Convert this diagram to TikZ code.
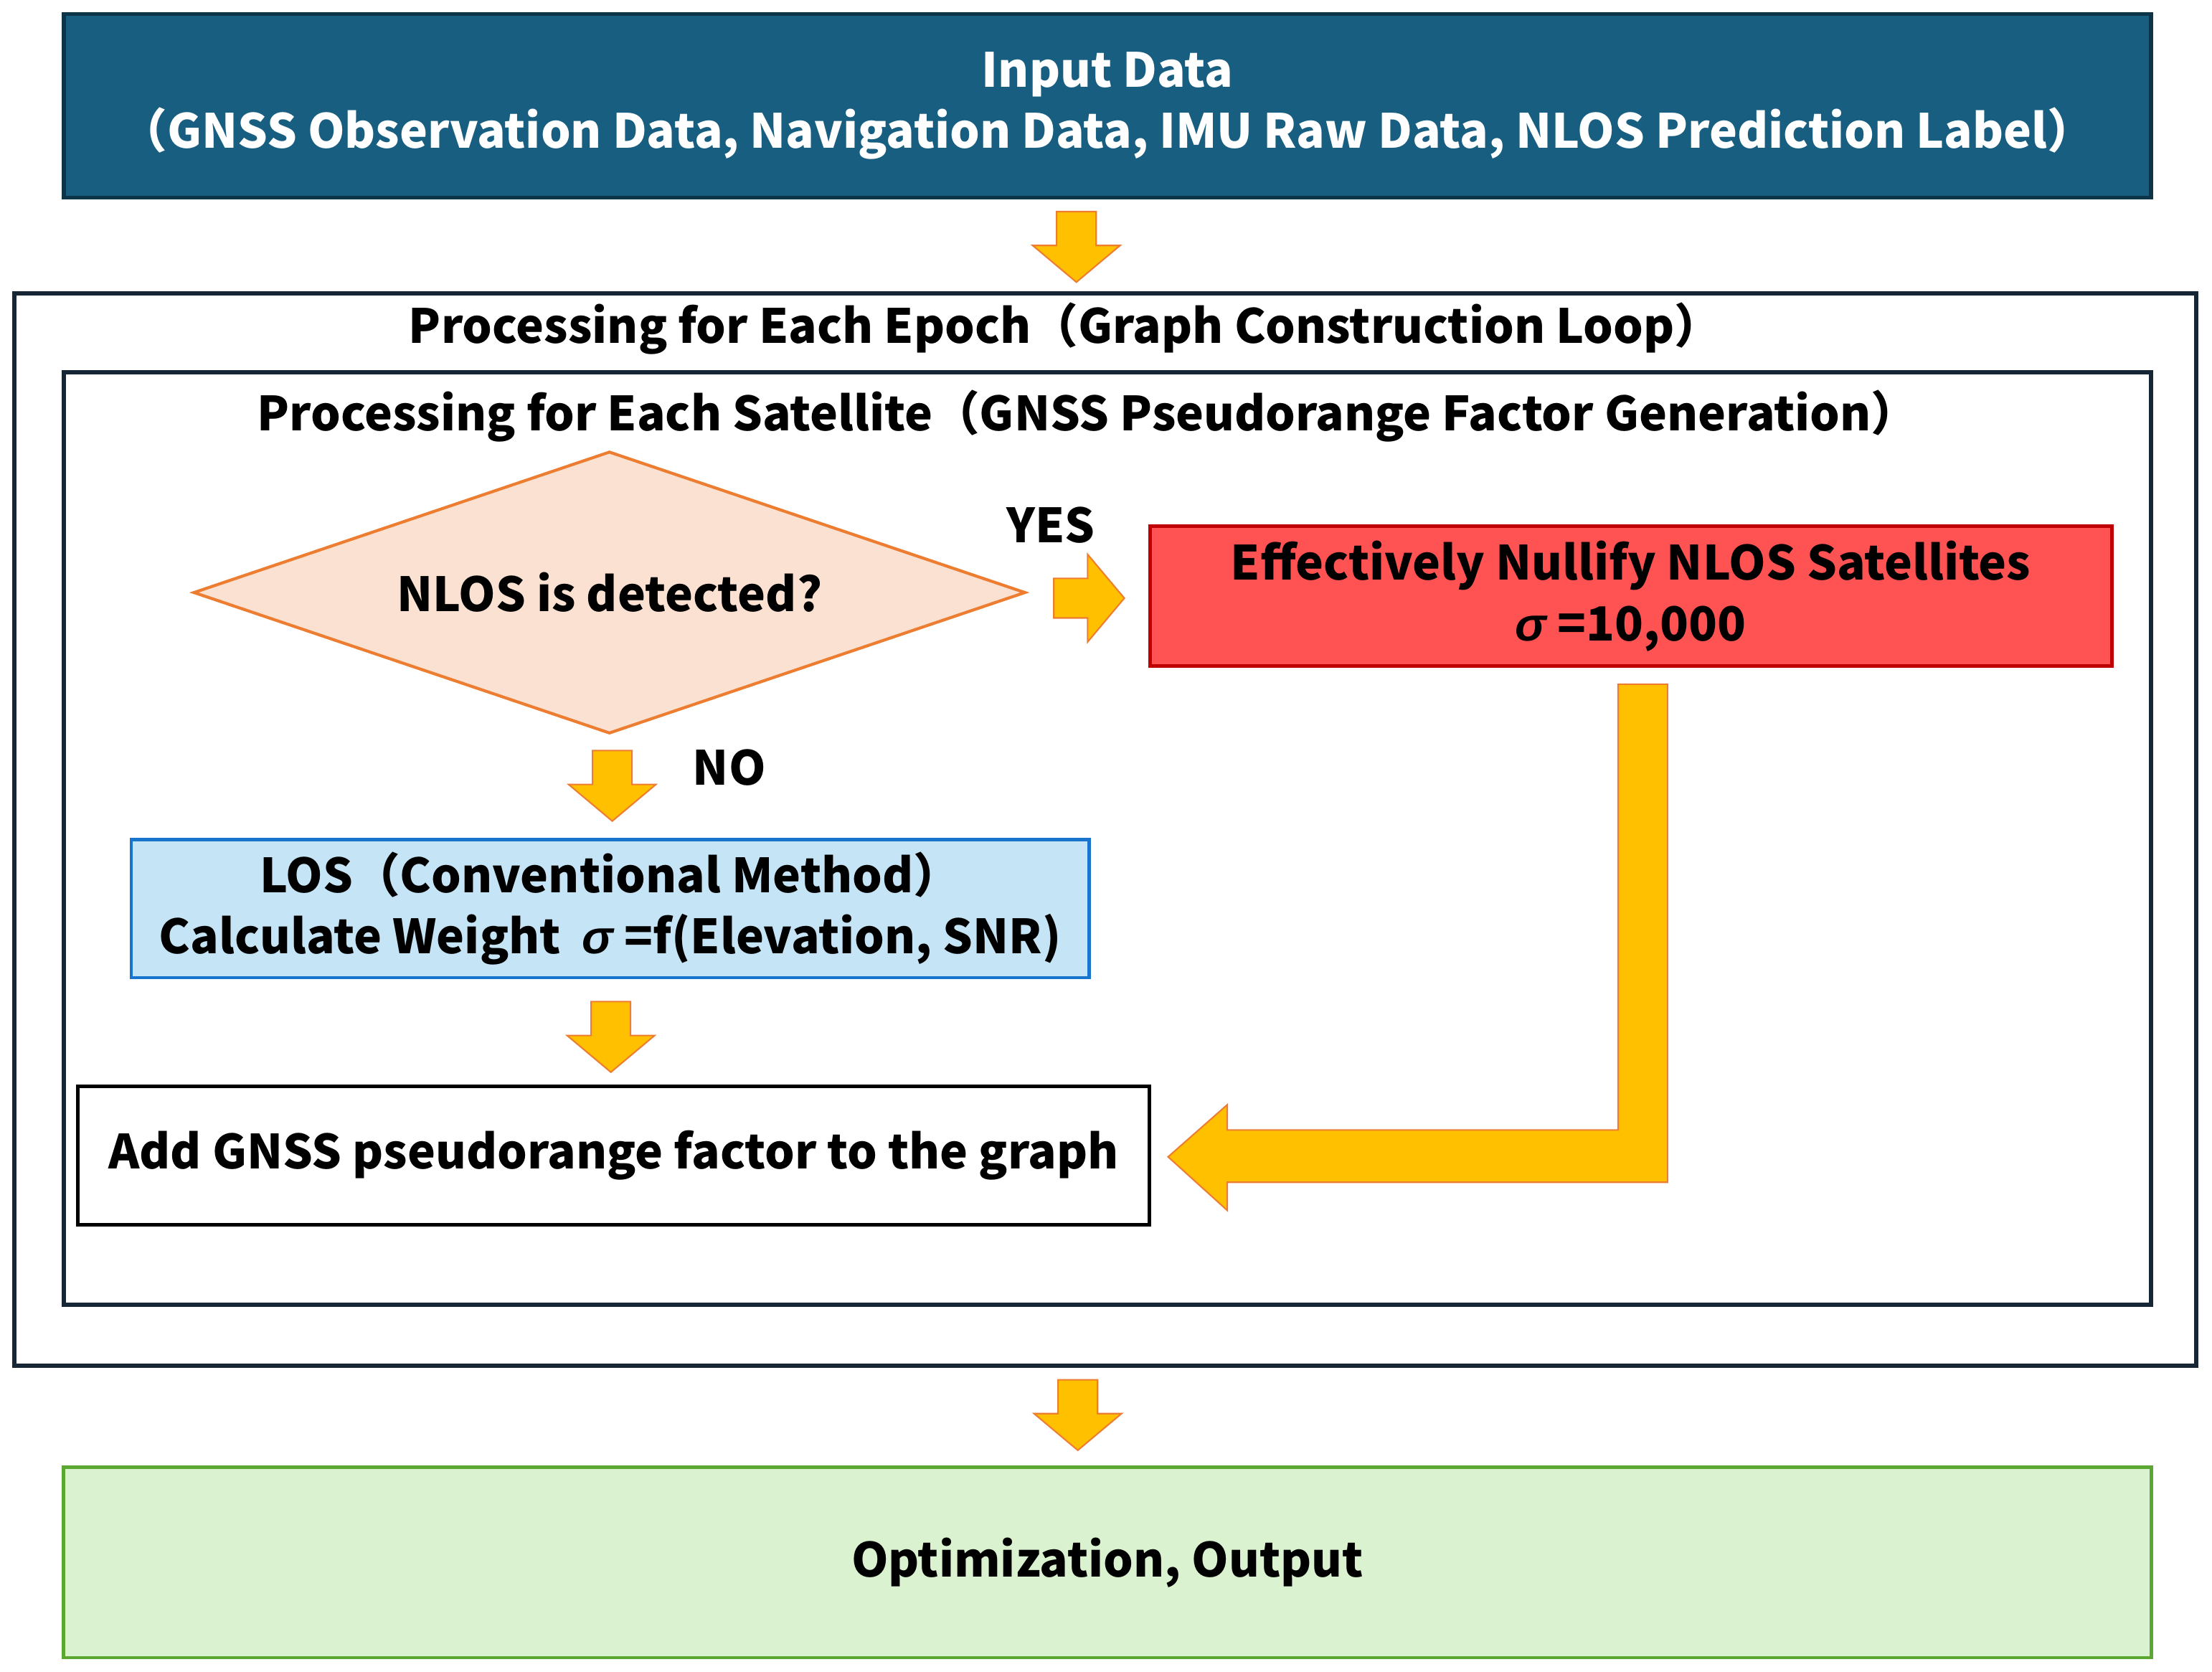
\documentclass[tikz,border=0pt]{standalone}
\usepackage{fontspec}
\setmainfont{Noto Sans CJK JP}
\newfontfamily\grk{Liberation Sans}
\usepackage{xcolor}
\usetikzlibrary{arrows.meta,positioning,shapes.geometric,calc}
\definecolor{fcTeal}   {RGB}{ 24, 94,128}
\definecolor{fcTealD}  {RGB}{ 14, 52, 72}
\definecolor{fcNavy}   {RGB}{ 22, 38, 52}
\definecolor{fcGold}   {RGB}{255,192,  0}
\definecolor{fcOrange} {RGB}{237,125, 49}
\definecolor{fcPeach}  {RGB}{251,225,210}
\definecolor{fcRed}    {RGB}{255, 82, 82}
\definecolor{fcRedD}   {RGB}{192,  0,  0}
\definecolor{fcSky}    {RGB}{197,228,245}
\definecolor{fcSkyD}   {RGB}{ 24,116,205}
\definecolor{fcMint}   {RGB}{218,242,208}
\definecolor{fcGreen}  {RGB}{ 90,168, 50}

\tikzset{
  pics/barrow/.style={code={
    \draw[arrowblk] (0,-14) -- (24,-14) -- (24,-31) -- (50,0)
                    -- (24,31) -- (24,14) -- (0,14) -- cycle;}}
}

\begin{document}
\begin{tikzpicture}[
  x=0.02cm, y=-0.02cm,
  every node/.style={font=\fontsize{19}{24.5}\selectfont\bfseries},
  arrowblk/.style={draw=fcOrange,fill=fcGold,line width=0.6pt,line join=miter},
  inbox/.style={draw=fcTealD,fill=fcTeal,text=white,line width=1.6pt,
                minimum width=29.6cm,minimum height=2.6cm,align=center},
  frame/.style={draw=fcNavy,line width=1.7pt,inner sep=0pt},
  decision/.style={diamond,aspect=2.95,draw=fcOrange,fill=fcPeach,line width=1.2pt,
                minimum width=11.8cm,minimum height=4cm,inner sep=0pt},
  nullbox/.style={draw=fcRedD,fill=fcRed,line width=1.4pt,
                minimum width=13.64cm,minimum height=1.98cm,align=center},
  losbox/.style={draw=fcSkyD,fill=fcSky,line width=1.4pt,
                minimum width=13.58cm,minimum height=1.96cm,align=center},
  addbox/.style={draw=black,fill=white,line width=1.5pt,
                minimum width=15.2cm,minimum height=1.96cm,align=center},
  outbox/.style={draw=fcGreen,fill=fcMint,line width=1.4pt,
                minimum width=29.6cm,minimum height=2.7cm,align=center}
]
\useasboundingbox (0,0) rectangle (1568,1185);

\node[inbox] (in) at (785,75)
  {Input Data\\（GNSS Observation Data, Navigation Data, IMU Raw Data, NLOS Prediction Label）};

\node[frame,minimum width=30.94cm,minimum height=15.2cm] (epoch) at (783.5,588) {};
\node[frame,minimum width=29.6cm,minimum height=13.22cm] (sat) at (785,594.5) {};
\node (epochT) at (755,233) {Processing for Each Epoch（Graph Construction Loop）};
\node (satT) at (771,295) {Processing for Each Satellite（GNSS Pseudorange Factor Generation）};

\node[decision] (nlos) at (432,420) {NLOS is detected?};
\node[nullbox] (null) at (1156,422.5)
  {Effectively Nullify NLOS Satellites\\{\grk\itshape σ} =10,000};
\node[losbox] (los) at (432.5,644)
  {LOS（Conventional Method）\\Calculate Weight\ \ {\grk\itshape σ} =f(Elevation, SNR)};
\node[addbox] (addf) at (435,819) {Add GNSS pseudorange factor to the graph};
\node[outbox] (opt) at (785,1107.5) {Optimization, Output};

\node (yes) at (745,372) {YES};
\node (no) at (517,544) {NO};

\pic[rotate=-90] at (763,150) {barrow};
\pic at (747,424) {barrow};
\pic[rotate=-90] at (434,532) {barrow};
\pic[rotate=-90] at (433,710) {barrow};
\pic[rotate=-90] at (764,978) {barrow};

\draw[arrowblk] (1147,485) -- (1182,485) -- (1182,838) -- (870,838) -- (870,858)
  -- (828,820) -- (870,783) -- (870,801) -- (1147,801) -- cycle;
\end{tikzpicture}
\end{document}
